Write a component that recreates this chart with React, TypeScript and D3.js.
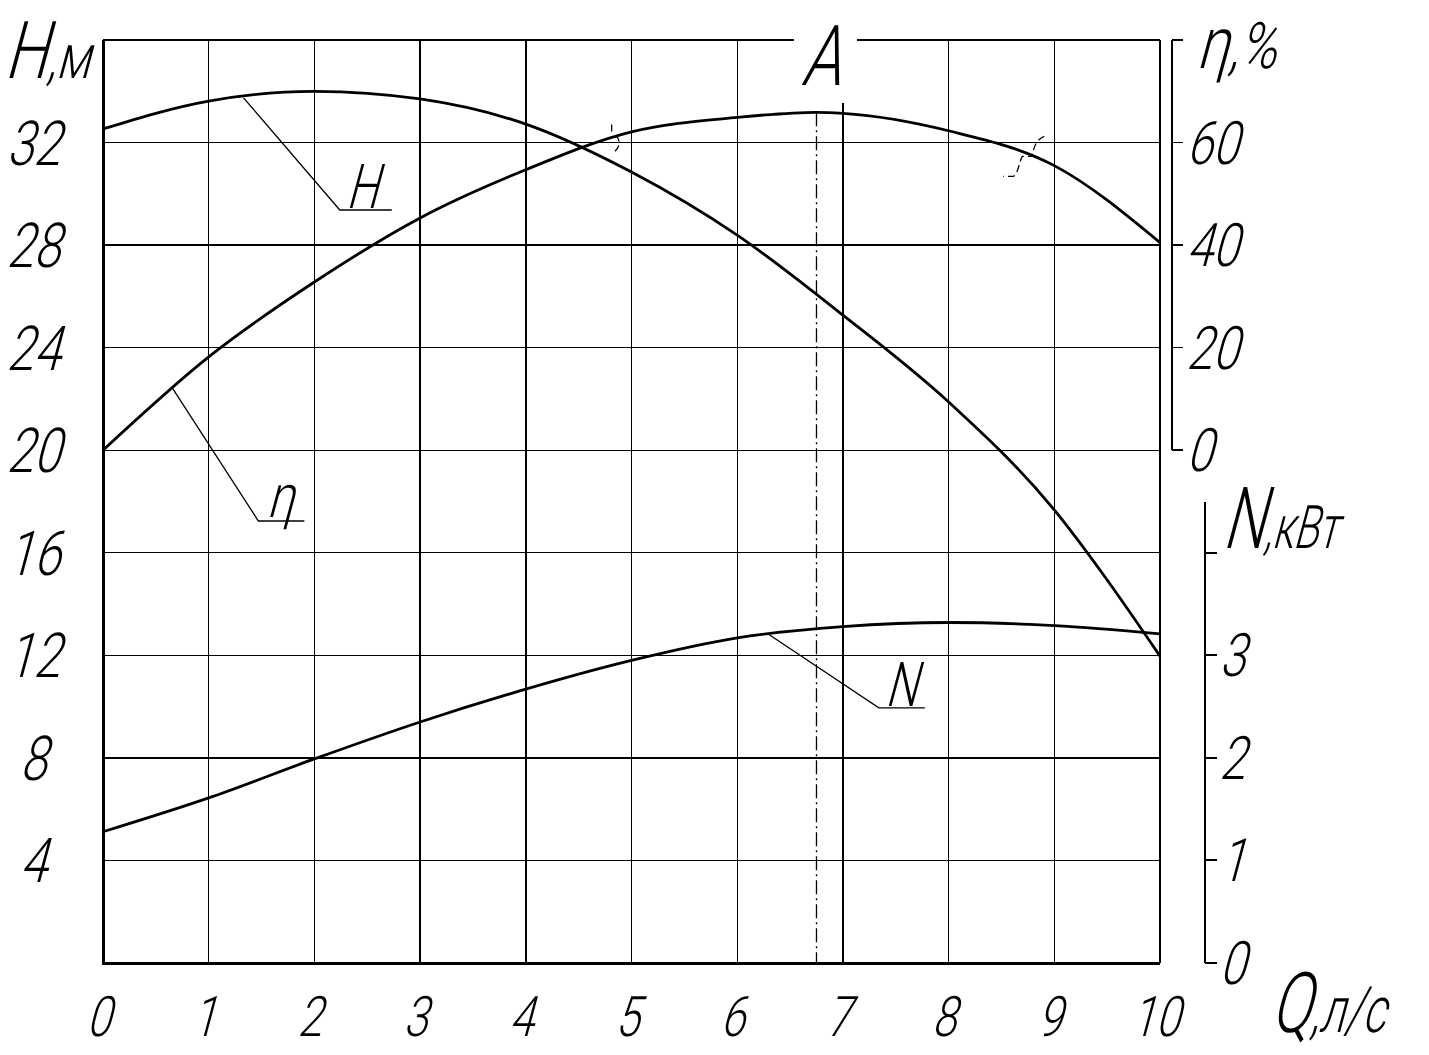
import React from "react";
import * as d3 from "d3";

// ---- data ----
const Q = [0, 1, 2, 3, 4, 5, 6, 7, 8, 9, 9.5, 10];
const H_VALUES = [32.53, 33.62, 34.0, 33.7, 32.72, 30.85, 28.39, 25.27, 21.88, 17.67, 14.94, 11.97];

const Q_ETA = [0, 1, 2, 3, 4, 5, 6, 6.75, 7, 8, 9, 10];
const ETA_VALUES = [0, 18.2, 32.8, 45.3, 54.7, 62.1, 64.9, 65.9, 65.7, 62.3, 55.5, 40.5];

const Q_N = [0, 1, 2, 3, 4, 5, 6, 7, 8, 9, 10];
const N_VALUES = [1.28, 1.61, 1.99, 2.35, 2.67, 2.95, 3.17, 3.28, 3.32, 3.29, 3.21];

const Q_TICKS = [0, 1, 2, 3, 4, 5, 6, 7, 8, 9, 10];
const H_TICKS = [4, 8, 12, 16, 20, 24, 28, 32];
const ETA_TICKS = [0, 20, 40, 60, 80];
const ETA_LABELS = [0, 20, 40, 60];
const N_TICKS = [0, 1, 2, 3, 4];
const N_LABELS = [0, 1, 2, 3];

const POINT_A_Q = 6.75;

// leader annotations: curve anchor Q, label end position (Q, H-scale)
const LEADERS = [
  { name: "H", q: 1.33, series: "H", endQ: 2.24, endH: 29.37, len: 52 },
  { name: "η", q: 0.66, series: "eta", endQ: 1.47, endH: 17.24, len: 46 },
  { name: "N", q: 6.3, series: "N", endQ: 7.34, endH: 9.95, len: 46 },
];

const FONT = "Roboto, 'DejaVu Sans', sans-serif";

function Txt({ x, y, size, anchor = "start", sx = 0.78, children, weight = 300 }: any) {
  return (
    <text
      transform={`translate(${x},${y}) skewX(-15) scale(${sx},1)`}
      fontSize={size}
      fontFamily={FONT}
      fontWeight={weight}
      textAnchor={anchor}
      fill="#000"
    >
      {children}
    </text>
  );
}

export default function App() {
  const W = 1429, Hh = 1055;
  const x = d3.scaleLinear().domain([0, 10]).range([103, 1160]);
  const yH = d3.scaleLinear().domain([0, 36]).range([963, 40]);
  const yEta = d3.scaleLinear().domain([0, 60]).range([yH(20), yH(32)]);
  const yN = d3.scaleLinear().domain([0, 1]).range([yH(0), yH(4)]);

  const lineGen = (qs: number[], vs: number[], ys: any) =>
    d3
      .line<number>()
      .x((_, i) => x(qs[i]))
      .y((v) => ys(v))
      .curve(d3.curveMonotoneX)(vs) as string;

  const interp = (qs: number[], vs: number[], q: number) => {
    const s = d3.scaleLinear().domain(qs).range(vs);
    return s(q);
  };

  const seriesY = (series: string, q: number) => {
    if (series === "H") return yH(interp(Q, H_VALUES, q));
    if (series === "eta") return yEta(interp(Q_ETA, ETA_VALUES, q));
    return yN(interp(Q_N, N_VALUES, q));
  };

  const x0 = x(0), x1 = x(10), yTop = yH(36), yBot = yH(0);
  const ax = x(POINT_A_Q);
  const aTop = yEta(interp(Q_ETA, ETA_VALUES, POINT_A_Q));

  const etaAxisX = 1172;
  const nAxisX = 1205;

  // break marks on eta curve
  const m1x = x(4.85), m1y = yEta(interp(Q_ETA, ETA_VALUES, 4.85));
  const m2x = x(8.65), m2y = yEta(interp(Q_ETA, ETA_VALUES, 8.65));

  return (
    <svg width={W} height={Hh} style={{ position: "absolute", left: 0, top: 0, background: "#fff" }}>
      <rect x={0} y={0} width={W} height={Hh} fill="#fff" />
      {/* grid */}
      <g stroke="#000" strokeWidth={1.4} shapeRendering="crispEdges">
        {Q_TICKS.filter((q) => q > 0 && q < 10).map((q) => (
          <line key={q} x1={x(q)} x2={x(q)} y1={q === 7 ? yH(33.55) : yTop} y2={yBot} />
        ))}
        {H_TICKS.map((h) => (
          <line key={h} x1={x0} x2={x1} y1={yH(h)} y2={yH(h)} />
        ))}
      </g>
      {/* frame */}
      <g stroke="#000" fill="none" shapeRendering="crispEdges">
        <line x1={x0} x2={x0} y1={yTop} y2={yBot} strokeWidth={3} />
        <line x1={x0 - 1} x2={x1} y1={yBot} y2={yBot} strokeWidth={3} />
        <line x1={x1} x2={x1} y1={yTop} y2={yBot} strokeWidth={1.8} />
        <line x1={x0} x2={794} y1={yTop} y2={yTop} strokeWidth={1.8} />
        <line x1={857} x2={x1} y1={yTop} y2={yTop} strokeWidth={1.8} />
      </g>

      {/* point A dash-dot line */}
      <line x1={ax} x2={ax} y1={aTop} y2={yBot} stroke="#000" strokeWidth={1.3} strokeDasharray="14,4,2,4" />

      {/* curves */}
      <g fill="none" stroke="#000" strokeWidth={2.8} strokeLinejoin="round">
        <path d={lineGen(Q, H_VALUES, yH)} />
        <path d={lineGen(Q_ETA, ETA_VALUES, yEta)} />
        <path d={lineGen(Q_N, N_VALUES, yN)} />
      </g>

      {/* break marks */}
      <g fill="none" stroke="#000" strokeWidth={1.3} strokeDasharray="7,4">
        <path d={`M${m1x - 4},${m1y - 13} L${m1x - 4},${m1y - 4} M${m1x},${m1y - 2} C${m1x + 6},${m1y + 3} ${m1x + 4},${m1y + 12} ${m1x - 4},${m1y + 16}`} />
        <path
          d={`M${m2x + 27},${m2y - 17} C${m2x + 19},${m2y - 14} ${m2x + 16},${m2y - 6} ${m2x + 15},${m2y + 3} L${m2x + 5},${m2y + 3} C${m2x + 2},${m2y + 8} ${m2x + 1},${m2y + 20} ${m2x - 4},${m2y + 23} L${m2x - 14},${m2y + 23}`}
        />
      </g>

      {/* leaders */}
      <g stroke="#000" strokeWidth={1.3} fill="none">
        {LEADERS.map((l) => {
          const sx = x(l.q), sy = seriesY(l.series, l.q);
          const ex = x(l.endQ), ey = yH(l.endH);
          return <path key={l.name} d={`M${sx},${sy} L${ex},${ey} L${ex + l.len},${ey}`} />;
        })}
      </g>
      {LEADERS.map((l) => {
        const ex = x(l.endQ), ey = yH(l.endH);
        return l.name === "η" ? (
          <Txt key={l.name} x={ex + 8} y={ey - 4} size={60} sx={0.8}>η</Txt>
        ) : (
          <Txt key={l.name} x={ex + 6} y={ey - 2} size={62} sx={0.72}>{l.name}</Txt>
        );
      })}

      {/* left H labels */}
      {H_TICKS.map((h) => (
        <Txt key={h} x={33} y={yH(h) + 22} size={62} anchor="middle">{h}</Txt>
      ))}
      {/* x labels */}
      {Q_TICKS.map((q) => (
        <Txt key={q} x={x(q) - 5} y={1036} size={56} anchor="middle">{q}</Txt>
      ))}

      {/* eta axis */}
      <g stroke="#000" strokeWidth={1.5} shapeRendering="crispEdges">
        <line x1={etaAxisX} x2={etaAxisX} y1={yEta(80)} y2={yEta(0)} />
        {ETA_TICKS.map((e) => (
          <line key={e} x1={etaAxisX} x2={etaAxisX + 11} y1={yEta(e)} y2={yEta(e)} />
        ))}
      </g>
      {ETA_LABELS.map((e) => (
        <Txt key={e} x={etaAxisX + 14} y={yEta(e) + 21} size={60}>{e}</Txt>
      ))}

      {/* N axis */}
      <g stroke="#000" strokeWidth={2} shapeRendering="crispEdges">
        <line x1={nAxisX} x2={nAxisX} y1={yN(4.5)} y2={yN(0)} />
        {N_TICKS.map((n) => (
          <line key={n} x1={nAxisX} x2={nAxisX + 12} y1={yN(n)} y2={yN(n)} />
        ))}
      </g>
      {N_LABELS.map((n) => (
        <Txt key={n} x={nAxisX + 14} y={yN(n) + 21} size={60}>{n}</Txt>
      ))}

      {/* axis titles */}
      <Txt x={4} y={78} size={80} sx={0.75}>
        H<tspan fontSize={62}>,м</tspan>
      </Txt>
      <Txt x={1196} y={68} size={72} sx={0.8}>
        η<tspan fontSize={64}>,%</tspan>
      </Txt>
      <Txt x={1222} y={548} size={86} sx={0.68}>
        N<tspan fontSize={60}>,кВт</tspan>
      </Txt>
      <Txt x={1270} y={1032} size={84} sx={0.7}>
        Q<tspan fontSize={64}>,л/с</tspan>
      </Txt>
      <Txt x={ax + 4} y={85} size={84} sx={0.75} anchor="middle">A</Txt>
    </svg>
  );
}
